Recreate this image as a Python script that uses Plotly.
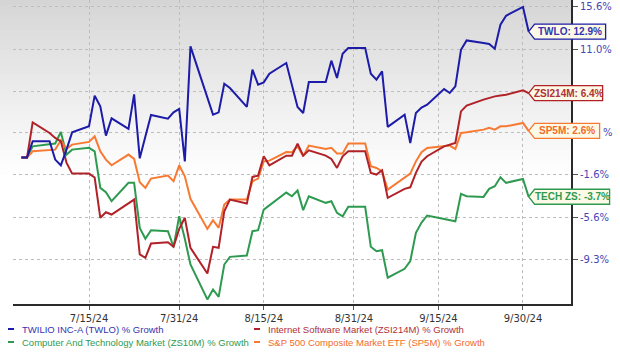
import numpy as np
import pandas as pd
import plotly.graph_objects as go

# ---------------- data ----------------
dates = pd.bdate_range("2024-07-03", "2024-10-01")  # 65 weekdays

twlo = [0, 0, 1.58, 1.58, -0.19, -0.74, 0.77, 2.46,
        3.06, 6.14, 5.06, 2.14, 3.85,
        2.80, 6.28, -0.07, 2.04, 4.19,
        3.82, 4.45, 4.79, -0.36, 11.30,
        6.00, 4.22, 4.45, 7.37, 6.93,
        5.00, 8.83, 7.27, 7.51, 8.41,
        9.53, 7.37, 5.00, 4.39, 7.55,
        7.55, 9.78, 7.96, 10.52, 11.12,
        11.12, 8.41, 7.79, 8.65, 3.00,
        4.22, 1.42, 4.39, 4.93, 5.23,
        6.83, 6.42, 7.10, 10.94, 11.94,
        11.66, 11.55, 11.05, 13.64, 14.63,
        15.6, 12.9]

zsi214m = [0, 0, 3.45, 2.40, 1.91, 1.58, -0.48, -1.53,
           -1.53, -1.90, -5.63, -5.12, -5.33,
           -4.33, -3.96, -8.90, -9.19, -7.94,
           -7.82, -8.23, -6.63, -5.63, -8.32,
           -10.55, -8.23, -8.32, -5.03, -3.96,
           -4.33, -1.84, -1.72, 0.13, -0.74,
           0.19, 0.19, 1.36, 0.19, 0.70,
           0.19, -0.13, -0.99, 0.13, 0.61,
           0.61, -1.46, -1.62, -1.21, -3.80,
           -2.96, -2.82, -1.46, -0.38, 0.13,
           1.09, 1.26, 1.42, 4.55, 5.13,
           5.74, 5.91, 6.07, 6.17, 6.24,
           6.69, 6.4]

sp5m = [0, 0, 0.61, 0.70, 0.77, 1.68, 0.84, 1.26,
        1.52, 2.07, 0.61, -0.19, -0.74,
        0.29, -0.13, -2.35, -2.87, -2.00,
        -1.72, -2.25, -0.74, -1.78, -3.89,
        -6.63, -5.85, -6.54, -4.42, -3.96,
        -3.96, -2.25, -2.00, -0.36, -0.29,
        0.53, 0.51, 1.09, 0.13, 1.16,
        0.84, 0.94, 0.39, 0.39, 1.36,
        1.36, -0.83, -0.99, -1.31, -3.03,
        -1.93, -1.53, -0.36, 0.53, 0.94,
        1.09, 1.16, 0.84, 2.40, 2.46,
        2.73, 2.90, 2.73, 3.06, 3.06,
        3.39, 2.6]

zs10m = [0, 0, 1.09, 1.33, 1.36, 2.50, 0.29, 0.77,
         0.94, 0.61, -2.87, -3.28, -4.11,
         -2.40, -2.40, -6.54, -7.52, -6.75,
         -6.84, -8.23, -5.49, -7.52, -9.78,
         -12.76, -11.92, -12.54, -9.78, -9.11,
         -8.99, -6.84, -6.75, -4.88, -4.51,
         -3.31, -3.65, -3.12, -4.94, -3.65,
         -4.26, -4.11, -5.18, -5.49, -4.63,
         -4.63, -8.23, -8.62, -8.53, -10.92,
         -10.15, -9.49, -6.98, -6.06, -5.42,
         -5.72, -5.79, -5.94, -3.43, -3.65,
         -3.71, -2.96, -2.72, -1.88, -2.40,
         -2.03, -3.7]

x_tick_dates = ["2024-07-15", "2024-07-31", "2024-08-15", "2024-08-31", "2024-09-15", "2024-09-30"]
x_tick_text = ["7/15/24", "7/31/24", "8/15/24", "8/31/24", "9/15/24", "9/30/24"]
y_tick_pct = [15.6, 11.0, 6.6, 2.4, -1.6, -5.6, -9.3]
# labels at 6.6% / 2.4% are hidden behind the end-label callouts in the original
y_tick_text = ["15.6%", "11.0%", "", "", "-1.6%", "-5.6%", "-9.3%"]

series_names = ["TWILIO INC-A (TWLO) % Growth",
                "Internet Software Market (ZSI214M) % Growth",
                "Computer And Technology Market (ZS10M) % Growth",
                "S&P 500 Composite Market ETF (SP5M) % Growth"]
end_labels = ["TWLO: 12.9%", "ZSI214M: 6.4%", "SP5M: 2.6%", "TECH ZS: -3.7%"]

# ---------------- styling ----------------
C_BLUE, C_RED, C_GREEN, C_ORANGE = "#1c1ca8", "#b02228", "#2e9a50", "#f77a33"
T_BLUE, T_RED, T_GREEN, T_ORANGE = "#3434b0", "#b0303a", "#2e9a50", "#f26b2a"
TICK_COL = "#4646b4"

W, H = 620, 354
ML, MR, MT, MB = 13, 49, 0, 50
PW, PH = W - ML - MR, H - MT - MB

def tr(v):
    return np.log1p(np.asarray(v, dtype=float) / 100.0)

x0 = pd.Timestamp("2024-07-01 12:15")
x1 = pd.Timestamp("2024-10-08 12:30")
y_top, y_bot = 157.6 / 1039.0, (157.6 - 304) / 1039.0

def pxx(px):
    return (px - ML) / PW

def pxy(py):
    return (H - MB - py) / PH

fig = go.Figure()
for vals, col in [(zs10m, C_GREEN), (sp5m, C_ORANGE), (zsi214m, C_RED), (twlo, C_BLUE)]:
    fig.add_trace(go.Scatter(x=dates, y=tr(vals), mode="lines",
                             line=dict(color=col, width=2), showlegend=False,
                             hoverinfo="skip"))

shapes = []
# gradient background
N = 36
for i in range(N):
    c = int(round(213 + (255 - 213) * (i / (N - 1)) ** 0.9))
    shapes.append(dict(type="rect", xref="paper", yref="paper", layer="below",
                       x0=pxx(0), x1=1, y0=pxy(i * 5), y1=pxy((i + 1) * 5) - 0.0005,
                       fillcolor=f"rgb({c},{c},{c})", line=dict(width=0)))

# end label callouts
last_x = (dates[-1] - x0) / (x1 - x0)
annotations = []
for vals, bcol, tcol, txt, wd in [(twlo, C_BLUE, T_BLUE, end_labels[0], 77),
                                   (zsi214m, C_RED, T_RED, end_labels[1], 74),
                                   (sp5m, C_ORANGE, T_ORANGE, end_labels[2], 71),
                                   (zs10m, C_GREEN, T_GREEN, end_labels[3], 81)]:
    yv = float(tr(vals[-1]))
    shapes.append(dict(type="path", xref="paper", yref="y", layer="above",
                       xsizemode="pixel", ysizemode="pixel",
                       xanchor=last_x, yanchor=yv,
                       path=f"M0,0 L6,7.5 L{wd},7.5 L{wd},-7.5 L6,-7.5 Z",
                       fillcolor="#fcfae6", line=dict(color=bcol, width=1.3)))
    annotations.append(dict(xref="paper", yref="y", x=last_x, y=yv,
                            xshift=(6 + wd) / 2, xanchor="center", yanchor="middle",
                            text=f"<b>{txt}</b>", showarrow=False,
                            font=dict(family="Liberation Sans, Arial", size=10, color=tcol)))

# the "%" of the hidden 2.4% tick label peeks out right of the SP5M callout
annotations.append(dict(xref="paper", yref="y", x=pxx(601), y=float(tr(y_tick_pct[3])),
                        xanchor="left", yanchor="middle", text="%", showarrow=False,
                        font=dict(family="DejaVu Sans", size=10, color=TICK_COL)))

# legend (built manually with coloured text)
leg = [(series_names[0], C_BLUE, T_BLUE, 8, 329),
       (series_names[1], C_RED, T_RED, 254, 329),
       (series_names[2], C_GREEN, T_GREEN, 8, 342),
       (series_names[3], C_ORANGE, T_ORANGE, 254, 342)]
for name, lc, tc, px, py in leg:
    shapes.append(dict(type="line", xref="paper", yref="paper",
                       x0=pxx(px), x1=pxx(px + 6), y0=pxy(py), y1=pxy(py),
                       line=dict(color=lc, width=2)))
    annotations.append(dict(xref="paper", yref="paper", x=pxx(px + 12), y=pxy(py),
                            xanchor="left", yanchor="middle", text=name, showarrow=False,
                            font=dict(family="Liberation Sans, Arial", size=9.5, color=tc)))

fig.update_layout(
    width=W, height=H,
    margin=dict(l=ML, r=MR, t=MT, b=MB),
    paper_bgcolor="white", plot_bgcolor="rgba(0,0,0,0)",
    shapes=shapes, annotations=annotations,
    xaxis=dict(type="date", range=[x0, x1], tickvals=x_tick_dates, ticktext=x_tick_text,
               showgrid=True, gridcolor="#bdbdbd", griddash="dot", gridwidth=1,
               showline=True, linecolor="#2a2a2a", linewidth=2,
               ticks="outside", ticklen=4, tickcolor="#555",
               tickfont=dict(family="DejaVu Sans", size=10, color="#333"),
               zeroline=False, fixedrange=True),
    yaxis=dict(side="right", range=[y_bot, y_top], tickvals=tr(y_tick_pct), ticktext=y_tick_text,
               showgrid=True, gridcolor="#bdbdbd", griddash="dot", gridwidth=1,
               showline=True, linecolor="#2a2a2a", linewidth=2,
               ticks="outside", ticklen=5, tickcolor="#555",
               tickfont=dict(family="DejaVu Sans", size=10, color=TICK_COL),
               zeroline=False, fixedrange=True),
)

fig.write_html("out.html")
